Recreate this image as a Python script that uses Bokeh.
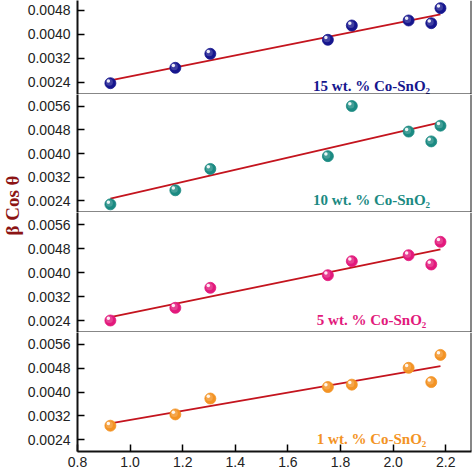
from math import pi

from bokeh.core.properties import value
from bokeh.embed import file_html
from bokeh.layouts import column, row
from bokeh.models import ColumnDataSource, FixedTicker, NumeralTickFormatter, Range1d, Span
from bokeh.plotting import figure
from bokeh.resources import INLINE
from bokeh.transform import dodge

# 4 sin(theta) for each reflection (shared by all samples)
four_sin_theta = [0.925, 1.172, 1.305, 1.752, 1.843, 2.059, 2.145, 2.180]

# beta cos(theta) per sample
bcos_15 = [0.002377, 0.002890, 0.003357, 0.003823, 0.004300, 0.004467, 0.004377, 0.004877]
bcos_10 = [0.002277, 0.002753, 0.003477, 0.003910, 0.005610, 0.004743, 0.004410, 0.004943]
bcos_5 = [0.002400, 0.002823, 0.003490, 0.003910, 0.004377, 0.004577, 0.004267, 0.005023]
bcos_1 = [0.002867, 0.003247, 0.003780, 0.004167, 0.004247, 0.004813, 0.004333, 0.005247]

# Williamson-Hall linear fits (end points of each fitted line)
fit_x = [0.925, 2.180]
fit_15 = [0.002467, 0.004667]
fit_10 = [0.002467, 0.005053]
fit_5 = [0.002510, 0.004767]
fit_1 = [0.002947, 0.004867]

sample_labels = ["15 wt. % Co-SnO\u2082", "10 wt. % Co-SnO\u2082",
                 "5 wt. % Co-SnO\u2082", "1 wt. % Co-SnO\u2082"]
colors = ["#16168e", "#1b8a82", "#e2197c", "#f39324"]

ticks_top = [0.0024, 0.0032, 0.0040, 0.0048]
ticks_full = [0.0024, 0.0032, 0.0040, 0.0048, 0.0056]

X_RANGE = (0.8, 2.298)
TICK_FONT = value("Liberation Sans")


def panel(ys, fit_y, label, color, y_range, ticks, frame_h, bottom=False):
    h = frame_h + (23 if bottom else 0)
    p = figure(width=450, height=h, output_backend="svg", toolbar_location=None,
               x_range=Range1d(*X_RANGE), y_range=Range1d(*y_range),
               min_border_left=53, min_border_right=3,
               min_border_top=0, min_border_bottom=23 if bottom else 0,
               title=None)
    p.outline_line_color = None
    p.xgrid.visible = False
    p.ygrid.visible = False
    p.background_fill_color = "white"
    p.border_fill_color = "white"

    yax = p.yaxis[0]
    yax.ticker = FixedTicker(ticks=ticks)
    yax.formatter = NumeralTickFormatter(format="0.0000")
    yax.axis_line_width = 2
    yax.axis_line_color = "#111111"
    yax.major_tick_in = 7
    yax.major_tick_out = 0
    yax.major_tick_line_width = 1.5
    yax.minor_tick_line_color = None
    yax.major_label_standoff = 7
    yax.major_label_text_font = "Liberation Sans"
    yax.major_label_text_font_size = "14px"
    yax.major_label_text_color = "#222222"

    xax = p.xaxis[0]
    if bottom:
        xax.ticker = FixedTicker(ticks=[0.8, 1.0, 1.2, 1.4, 1.6, 1.8, 2.0, 2.2])
        xax.formatter = NumeralTickFormatter(format="0.0")
        xax.axis_line_width = 2
        xax.axis_line_color = "#111111"
        xax.major_tick_in = 7
        xax.major_tick_out = 0
        xax.major_tick_line_width = 1.5
        xax.minor_tick_line_color = None
        xax.major_label_standoff = 5
        xax.major_label_text_font = "Liberation Sans"
        xax.major_label_text_font_size = "14px"
        xax.major_label_text_color = "#222222"
    else:
        xax.visible = False
        p.add_layout(Span(location=y_range[0], dimension="width",
                          line_color="#111111", line_width=2))
    p.add_layout(Span(location=X_RANGE[1], dimension="height",
                      line_color="#111111", line_width=2))

    # fitted line
    p.line(fit_x, fit_y, line_color="#c4141e", line_width=1.8)

    # spheres: body + specular highlight
    src = ColumnDataSource(dict(x=four_sin_theta, y=ys))
    px_y = (y_range[1] - y_range[0]) / frame_h
    px_x = (X_RANGE[1] - X_RANGE[0]) / 394
    p.scatter("x", "y", source=src, size=11, fill_color=color,
              line_color=color, line_width=0.8)
    p.scatter(dodge("x", -1.0 * px_x, range=p.x_range),
              dodge("y", 1.0 * px_y, range=p.y_range),
              source=src, size=7, fill_color="white", fill_alpha=0.18, line_color=None)
    p.scatter(dodge("x", -2.0 * px_x, range=p.x_range),
              dodge("y", 2.2 * px_y, range=p.y_range),
              source=src, size=3.5, fill_color="white", fill_alpha=0.9, line_color=None)

    # sample label
    label_y = y_range[0] + (9 if frame_h < 100 else 13) * px_y
    p.text(x=[1.918], y=[label_y], text=[label], text_color=color,
           text_font=value("Liberation Serif"), text_font_style="bold",
           text_font_size="15px", text_align="center", text_baseline="alphabetic")
    return p


p1 = panel(bcos_15, fit_15, sample_labels[0], colors[0], (0.0020, 0.005133), ticks_top, 94)
p2 = panel(bcos_10, fit_10, sample_labels[1], colors[1], (0.0020, 0.0060), ticks_full, 118)
p3 = panel(bcos_5, fit_5, sample_labels[2], colors[2], (0.0020, 0.0060), ticks_full, 120)
p4 = panel(bcos_1, fit_1, sample_labels[3], colors[3], (0.0020, 0.0060), ticks_full, 119,
           bottom=True)

# shared y-axis title
lab = figure(width=24, height=474, output_backend="svg", toolbar_location=None,
             x_range=Range1d(0, 1), y_range=Range1d(0, 474),
             min_border=0, title=None)
lab.outline_line_color = None
lab.axis.visible = False
lab.grid.visible = False
lab.text(x=[0.5], y=[269], text=["\u03b2 Cos \u03b8"], angle=pi / 2,
         text_color="#8c1414", text_font=value("Liberation Serif"),
         text_font_style="bold", text_font_size="19px",
         text_align="center", text_baseline="middle")

layout = row(lab, column(p1, p2, p3, p4, spacing=0), spacing=0)

open("out.html", "w").write(file_html(layout, INLINE))
